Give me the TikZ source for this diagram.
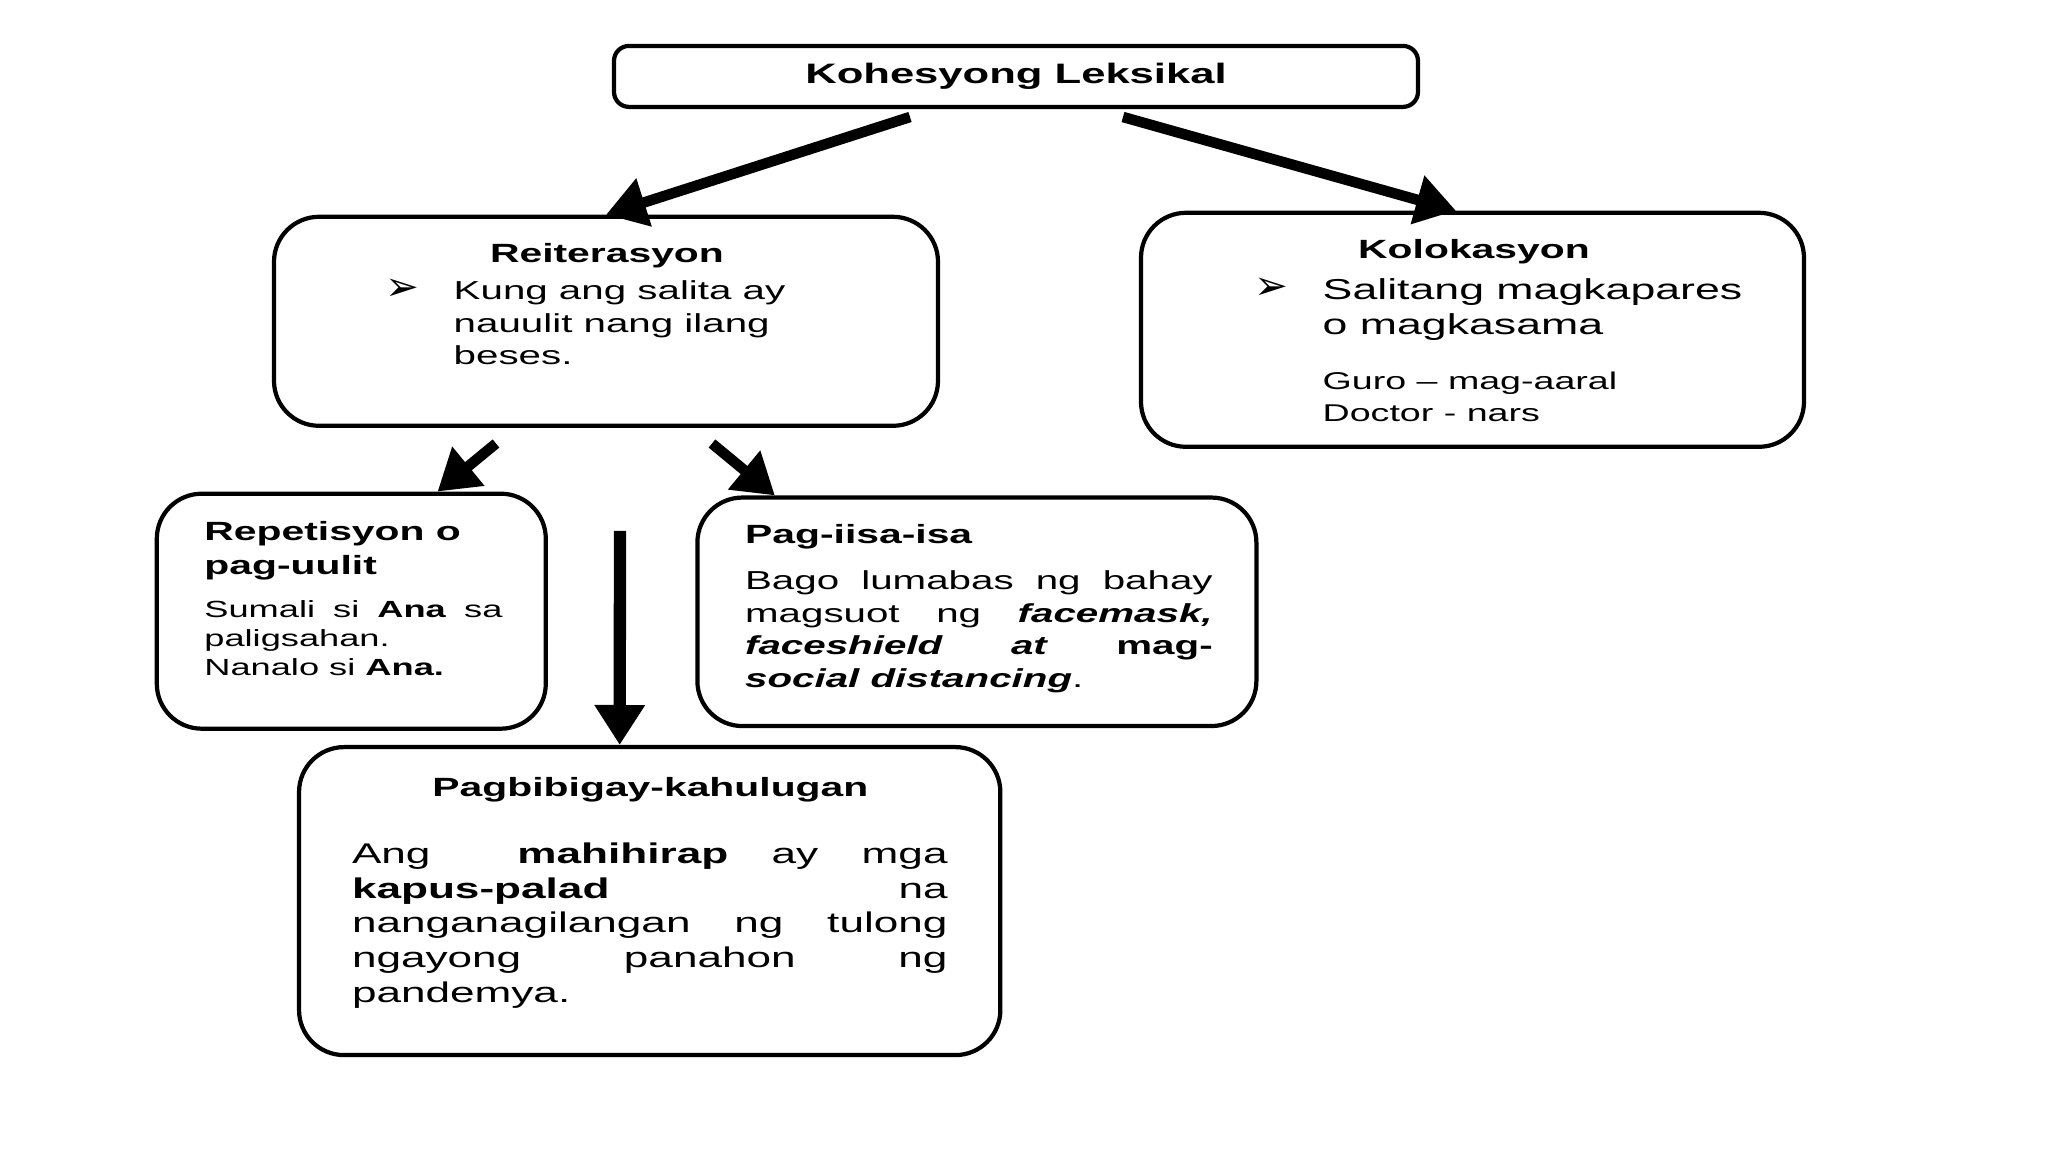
\documentclass[tikz,border=0pt]{standalone}
\usepackage{fontspec}
\setmainfont{Liberation Sans}[FakeStretch=1.55]
\newfontfamily\symfont{DejaVu Sans}
\usetikzlibrary{arrows.meta}
\newcommand{\jline}[2]{\makebox[#1][s]{#2}}
\newcommand{\bulletmark}{{\symfont\fontsize{11.5}{12}\selectfont ➢}}
\tikzset{
  box/.style={draw, line width=1.2pt, rounded corners=0.45cm},
  headbox/.style={draw, line width=1.2pt, rounded corners=0.15cm},
  fat/.style={line width=3pt, -{Triangle[length=0.4cm,width=0.48cm]}},
  title/.style={font=\fontsize{7.5}{9.6}\selectfont\bfseries, inner sep=0pt},
  body/.style={align=left, inner sep=0pt, anchor=north west},
}

\begin{document}
\begin{tikzpicture}[y=-1cm]
    \useasboundingbox (0,0) rectangle (20.48,11.52);
    % boxes
    \node[headbox, minimum width=8.04cm, minimum height=0.61cm,
          font=\fontsize{8}{10}\selectfont\bfseries] (kl) at (10.16,0.764) {Kohesyong Leksikal};
    \node[box, minimum width=6.64cm, minimum height=2.09cm] (reit) at (6.06,3.213) {};
    \node[box, minimum width=6.63cm, minimum height=2.34cm] (kolo) at (14.725,3.298) {};
    \node[box, minimum width=3.89cm, minimum height=2.35cm] (rep) at (3.513,6.112) {};
    \node[box, minimum width=5.59cm, minimum height=2.285cm] (isa) at (9.769,6.118) {};
    \node[box, minimum width=7.013cm, minimum height=3.08cm] (bigay) at (6.497,9.011) {};

    % Reiterasyon
    \node[title] (reittitle) at (6.07,2.56) {Reiterasyon};
    \node (reitmark) at (4.02,2.90) {\bulletmark};
    \node[body, font=\fontsize{7.4}{9.3}\selectfont] (reitbody) at (4.53,2.80)
        {Kung ang salita ay\\nauulit nang ilang\\beses.};

    % Kolokasyon
    \node[title] (kolotitle) at (14.74,2.52) {Kolokasyon};
    \node (kolomark) at (12.71,2.886) {\bulletmark};
    \node[body, font=\fontsize{8.2}{10}\selectfont] (kolobody) at (13.22,2.78)
        {Salitang magkapares\\o magkasama};
    \node[body, font=\fontsize{6.9}{9.3}\selectfont] (koloex) at (13.22,3.71)
        {Guro -- mag-aaral\\Doctor - nars};

    % Repetisyon
    \node[title, body] (reptitle) at (2.037,5.21) {Repetisyon o\\pag-uulit};
    \node[body, font=\fontsize{6.65}{8.3}\selectfont] (repbody) at (2.037,6.00)
        {\jline{2.98cm}{Sumali si \textbf{Ana} sa}\\paligsahan.\\Nanalo si \textbf{Ana.}};

    % Pag-iisa-isa
    \node[title, body] (isatitle) at (7.444,5.24) {Pag-iisa-isa};
    \node[body, font=\fontsize{7.4}{9.3}\selectfont] (isabody) at (7.444,5.70)
        {\jline{4.676cm}{Bago lumabas ng bahay}\\
         \jline{4.676cm}{magsuot ng \textbf{\textit{facemask,}}}\\
         \jline{4.676cm}{\textbf{\textit{faceshield}} \textbf{\textit{at}} \textbf{mag-}}\\
         \textbf{\textit{social distancing}}.};

    % Pagbibigay-kahulugan
    \node[title] (bigaytitle) at (6.504,7.90) {Pagbibigay-kahulugan};
    \node[body, font=\fontsize{8.1}{9.9}\selectfont] (bigaybody) at (3.513,8.42)
        {\jline{5.956cm}{Ang~ \textbf{mahihirap} ay mga}\\
         \jline{5.956cm}{\textbf{kapus-palad} na}\\
         \jline{5.956cm}{nanganagilangan ng tulong}\\
         \jline{5.956cm}{ngayong panahon ng}\\
         pandemya.};

    % arrows
    \draw[fat] ([xshift=-1.06cm,yshift=-0.08cm]kl.south) -- (reit.north);
    \draw[fat] ([xshift=1.07cm,yshift=-0.08cm]kl.south) -- ([xshift=-0.165cm]kolo.north);
    \draw[fat] ([xshift=-1.10cm,yshift=-0.156cm]reit.south) -- ([xshift=0.862cm]rep.north);
    \draw[fat] ([xshift=1.06cm,yshift=-0.156cm]reit.south) -- ([xshift=-2.02cm]isa.north);
    \draw[fat, line width=3.5pt] ([xshift=0.14cm,yshift=-1.03cm]reit.south) -- ([xshift=-0.30cm]bigay.north);
\end{tikzpicture}
\end{document}
